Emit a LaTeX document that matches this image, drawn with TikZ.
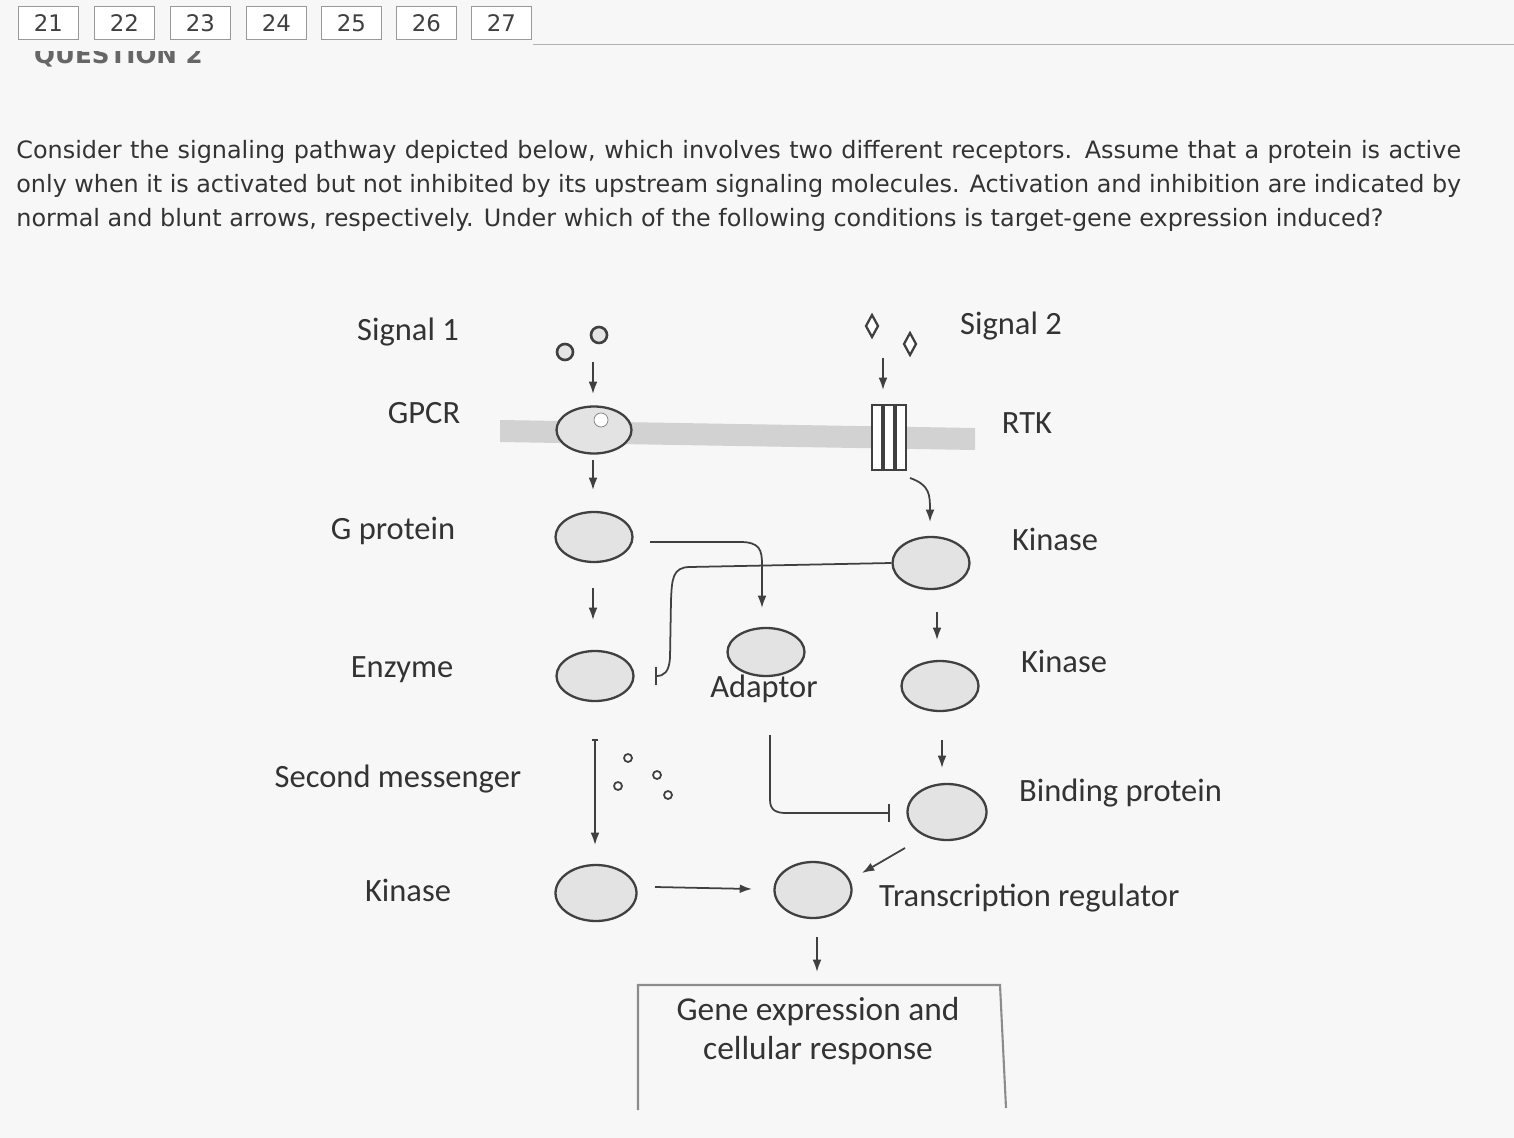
\documentclass[tikz,border=0pt]{standalone}
\usepackage{fontspec}
\setmainfont{DejaVu Sans}
\newfontfamily\lab{Carlito}
\usetikzlibrary{arrows.meta,shapes.geometric}
\begin{document}
\begin{tikzpicture}[x=0.02cm,y=-0.02cm,
 cell/.style={draw=black!75,fill=gray!22,line width=1.3pt,ellipse,inner sep=0pt},
 lbl/.style={font=\lab\fontsize{18.5}{20}\selectfont,text=black!80},
 act/.style={draw=black!75,line width=1pt,-{Latex[length=7pt,width=5pt]}},
 inh/.style={draw=black!75,line width=1pt,-{Bar[width=10pt]}},
 tab/.style={draw=black!40,fill=white,font=\fontsize{13}{15}\selectfont,text=black!75}]
\useasboundingbox (0,0) rectangle (1514,1138);
\fill[black!3] (0,0) rectangle (1514,1138);
% tabs
\foreach \n/\x in {21/18,22/94,23/170,24/246,25/321,26/396,27/471}{
  \node[tab,minimum width=1.2cm,minimum height=0.66cm,anchor=north west] (t\n) at (\x,6) {\n};}
\draw[black!30] (533,44) -- (1514,44);
\begin{scope}
\clip (0,52) rectangle (400,80);
\node[anchor=west,font=\fontsize{14}{16}\selectfont\bfseries,text=black!60] (q) at (28,56) {QUESTION 2};
\end{scope}
% paragraph
\node[anchor=north west,text width=28.9cm,align=justify,inner sep=0pt,font=\fontsize{13.6}{19.3}\selectfont,text=black!80] (para) at (16,140)
{Consider the signaling pathway depicted below, which involves two different receptors. Assume that a protein is active only when it is activated but not inhibited by its upstream signaling molecules. Activation and inhibition are indicated by normal and blunt arrows, respectively. Under which of the following conditions is target-gene expression induced?\par};
% membrane
\fill[gray!35] (500,420) -- (975,428) -- (975,450) -- (500,442) -- cycle;
% RTK
\foreach \x in {872,884,896}{\draw[black!75,line width=1pt,fill=white] (\x,405) rectangle (\x+10,470);}
% signals
\draw[black!75,line width=1.5pt,fill=gray!20] (565,352) circle (8) (599,335) circle (8);
\draw[black!75,line width=1.3pt,fill=white] (872,315)--(878,326)--(872,337)--(866,326)--cycle
 (910,333)--(916,344)--(910,355)--(904,344)--cycle;
% cells
\node[cell,minimum width=1.5cm,minimum height=0.94cm] (gpcr) at (594,430) {};
\draw[black!50,fill=white] (601,420) circle (7);
\node[cell,minimum width=1.54cm,minimum height=1cm] (gp) at (594,537) {};
\node[cell,minimum width=1.54cm,minimum height=1cm] (enz) at (595,676) {};
\node[cell,minimum width=1.62cm,minimum height=1.12cm] (kinL) at (596,893) {};
\node[cell,minimum width=1.54cm,minimum height=1.12cm] (tr) at (813,890) {};
\node[cell,minimum width=1.54cm,minimum height=0.96cm] (adap) at (766,652) {};
\node[cell,minimum width=1.54cm,minimum height=1.04cm] (k1) at (931,563) {};
\node[cell,minimum width=1.54cm,minimum height=1cm] (k2) at (940,686) {};
\node[cell,minimum width=1.58cm,minimum height=1.12cm] (bp) at (947,812) {};
% labels
\node[lbl] (l1) at (408,332) {Signal 1};
\node[lbl] (l2) at (424,413) {GPCR};
\node[lbl] (l3) at (393,531) {G protein};
\node[lbl] (l4) at (402,670) {Enzyme};
\node[lbl] (l5) at (398,779) {Second messenger};
\node[lbl] (l6) at (408,890) {Kinase};
\node[lbl] (l7) at (1011,326) {Signal 2};
\node[lbl] (l8) at (1027,423) {RTK};
\node[lbl] (l9) at (1055,539) {Kinase};
\node[lbl] (l10) at (1064,661) {Kinase};
\node[lbl,anchor=west] (l11) at (1013,793) {Binding protein};
\node[lbl,anchor=west] (l12) at (873,898) {Transcription regulator};
\node[lbl] (l13) at (764,689) {Adaptor};
% second messenger dots
\foreach \p in {(628,758),(618,786),(657,775),(668,795)}{\draw[black!75,line width=1pt,fill=white] \p circle (4);}
% arrows
\coordinate (s1) at (593,362); \coordinate (s2) at (883,358);
\draw[act] (s1) -- (593,394);
\draw[act] (s2) -- (883,390);
\draw[act] (593,460) -- (593,490);
\draw[act] (593,588) -- (593,620);
\draw[act] (937,612) -- (937,640);
\draw[act] (942,740) -- (942,768);
\draw[act] (910,478) .. controls (930,485) and (930,495) .. (930,522);
\draw[black!75,line width=1pt] (592,740) -- (598,740);
\draw[act] (595,740) -- (595,845);
\draw[act] (650,542) -- (740,542) .. controls (760,542) and (762,550) .. (762,565) -- (762,608);
\draw[inh] (k1.west) -- (690,567) .. controls (672,567) and (672,580) .. (671,600) -- (670,658) .. controls (669,672) and (664,676) .. (655,676);
\draw[inh] (770,735) -- (770,800) .. controls (770,810) and (776,813) .. (786,813) -- (890,813);
\draw[act] (905,848) -- (862,873);
\draw[act] (655,887) -- (752,889);
\draw[act] (817,937) -- (817,972);
% box
\draw[black!45,line width=1.2pt] (638,1110) -- (638,985) -- (1000,985) -- (1006,1108);
\node[lbl,align=center,font=\lab\fontsize{19}{22}\selectfont] (gene) at (818,1031) {Gene expression and\\cellular response};
\end{tikzpicture}
\end{document}
